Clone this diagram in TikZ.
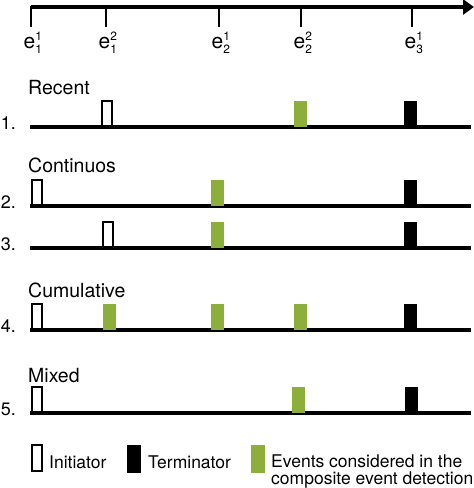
\documentclass[tikz,border=0pt]{standalone}
\usepackage{fontspec}
\setmainfont{TeX Gyre Heros}
\usetikzlibrary{arrows.meta}
\definecolor{evgreen}{HTML}{8CAF3C}
\newcommand{\evlab}[2]{$\hbox{e}^{\hbox{\fontsize{12}{12}\selectfont #1}}_{\hbox{\fontsize{12}{12}\selectfont #2}}$}

\begin{document}
\begin{tikzpicture}[x=1pt, y=1pt,
  axisline/.style={line width=3.3pt, -{Triangle[length=11pt, width=15pt]}},
  tickline/.style={line width=2.6pt},
  rowline/.style={line width=3.6pt},
  initbox/.style={draw, line width=2.3pt, fill=white, minimum width=10pt, minimum height=25pt, inner sep=0pt, anchor=south},
  termbox/.style={fill=black, minimum width=13pt, minimum height=26pt, inner sep=0pt, anchor=south},
  evbox/.style={fill=evgreen, minimum width=13pt, minimum height=26pt, inner sep=0pt, anchor=south},
  ticklab/.style={font=\fontsize{21}{21}\selectfont, inner sep=0pt},
  rowtitle/.style={anchor=base west, font=\fontsize{19.5}{19.5}\selectfont, inner sep=0pt},
  rownum/.style={anchor=base east, font=\fontsize{18}{18}\selectfont, inner sep=0pt},
  legtext/.style={anchor=base west, font=\fontsize{17.5}{17}\selectfont, inner sep=0pt, align=left}]

\useasboundingbox (0,0) rectangle (474,-488);

% Time axis
\coordinate (ax0) at (31,-7);
\coordinate (ax1) at (474,-7);
\draw[axisline] (ax0) -- (ax1);

% Ticks and event labels
\coordinate (k1) at (31,-6);
\coordinate (k2) at (106,-6);
\coordinate (k3) at (219,-6);
\coordinate (k4) at (301,-6);
\coordinate (k5) at (412,-6);
\draw[tickline] (k1) -- ++(0,-21);
\draw[tickline] (k2) -- ++(0,-21);
\draw[tickline] (k3) -- ++(0,-21);
\draw[tickline] (k4) -- ++(0,-21);
\draw[tickline] (k5) -- ++(0,-21);
\node[ticklab] (e11) at (33,-43) {\evlab{1}{1}};
\node[ticklab] (e12) at (108,-43) {\evlab{2}{1}};
\node[ticklab] (e21) at (221,-43) {\evlab{1}{2}};
\node[ticklab] (e22) at (303,-43) {\evlab{2}{2}};
\node[ticklab] (e31) at (414,-43) {\evlab{1}{3}};

% Recent
\node[rowtitle] (recent) at (28,-94) {Recent};
\node[rownum] (n1) at (16,-129) {1.};
\coordinate (r1a) at (30,-127);
\coordinate (r1b) at (471,-127);
\draw[rowline] (r1a) -- (r1b);
\node[initbox] (r1i) at (107,-127) {};
\node[evbox] (r1g) at (300.5,-127) {};
\node[termbox] (r1t) at (410.5,-127) {};

% Continuos
\node[rowtitle] (contin) at (28,-172) {Continuos};
\node[rownum] (n2) at (16,-208) {2.};
\coordinate (r2a) at (30,-206);
\coordinate (r2b) at (471,-206);
\draw[rowline] (r2a) -- (r2b);
\node[initbox] (r2i) at (37,-206) {};
\node[evbox] (r2g) at (217,-206) {};
\node[termbox] (r2t) at (410.5,-206) {};

\node[rownum] (n3) at (16,-250) {3.};
\coordinate (r3a) at (30,-248);
\coordinate (r3b) at (471,-248);
\draw[rowline] (r3a) -- (r3b);
\node[initbox] (r3i) at (108,-248) {};
\node[evbox] (r3g) at (217.5,-248) {};
\node[termbox] (r3t) at (410.5,-248) {};

% Cumulative
\node[rowtitle] (cumul) at (28,-297) {Cumulative};
\node[rownum] (n4) at (16,-332) {4.};
\coordinate (r4a) at (30,-330);
\coordinate (r4b) at (471,-330);
\draw[rowline] (r4a) -- (r4b);
\node[initbox] (r4i) at (37,-330) {};
\node[evbox] (r4g1) at (109,-330) {};
\node[evbox] (r4g2) at (217.5,-330) {};
\node[evbox] (r4g3) at (300.5,-330) {};
\node[termbox] (r4t) at (410.5,-330) {};

% Mixed
\node[rowtitle] (mixed) at (28,-382) {Mixed};
\node[rownum] (n5) at (16,-415) {5.};
\coordinate (r5a) at (30,-413);
\coordinate (r5b) at (471,-413);
\draw[rowline] (r5a) -- (r5b);
\node[initbox] (r5i) at (37,-413) {};
\node[evbox] (r5g) at (298.5,-413) {};
\node[termbox] (r5t) at (411,-413) {};

% Legend
\node[initbox, minimum height=26pt] (li) at (37,-472) {};
\node[legtext] (lit) at (49,-468) {Initiator};
\node[termbox, minimum width=14pt, minimum height=28pt] (lt) at (134,-473) {};
\node[legtext] (ltt) at (148,-468) {Terminator};
\node[evbox, minimum width=14pt, minimum height=28pt] (lg) at (258,-473) {};
\node[legtext, anchor=north west] (lgt) at (271,-455) {Events considered in the\\composite event detection};

\end{tikzpicture}
\end{document}
